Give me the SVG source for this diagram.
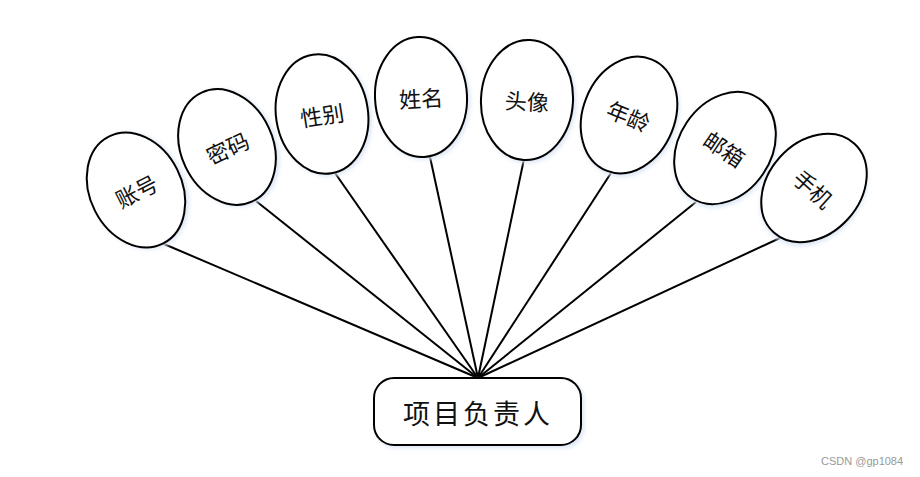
<svg xmlns="http://www.w3.org/2000/svg" width="920" height="477" viewBox="0 0 920 477">
<style>
.e{fill:#fff;stroke:#000;stroke-width:2}
.s{fill:#dbe6f5;stroke:none;filter:url(#bl)}
.t{font-family:"Noto Sans CJK SC","Noto Sans CJK JP",sans-serif;font-size:22px;font-weight:400;fill:#111;text-anchor:middle;dominant-baseline:central}
.c{stroke:#000;stroke-width:2;fill:none}
.wm{font-family:"Liberation Sans",Arial,sans-serif;font-size:11px;fill:#999}
</style>
<defs>
<filter id="bl" x="-20%" y="-20%" width="140%" height="140%">
<feGaussianBlur stdDeviation="2"/>
</filter>
</defs>
<rect width="920" height="477" fill="#fff"/>
<g id="connectors">
<line class="c" x1="164" y1="244" x2="478" y2="378"/>
<line class="c" x1="256" y1="201" x2="478" y2="378"/>
<line class="c" x1="335" y1="173" x2="478" y2="378"/>
<line class="c" x1="430" y1="157" x2="478" y2="378"/>
<line class="c" x1="524" y1="159" x2="478" y2="378"/>
<line class="c" x1="611" y1="173" x2="478" y2="378"/>
<line class="c" x1="696" y1="202" x2="478" y2="378"/>
<line class="c" x1="780" y1="238" x2="478" y2="378"/>
</g>
<g id="n1" transform="translate(136,190) rotate(-27)">
<ellipse class="s" cx="2" cy="2" rx="47" ry="61"/>
<ellipse class="e" rx="46" ry="60"/>
<text class="t" x="0" y="0">账号</text>
</g>
<g id="n2" transform="translate(227,147) rotate(-25)">
<ellipse class="s" cx="2" cy="2" rx="47" ry="61"/>
<ellipse class="e" rx="46" ry="60"/>
<text class="t" x="0" y="0">密码</text>
</g>
<g id="n3" transform="translate(322,114) rotate(-9)">
<ellipse class="s" cx="2" cy="2" rx="47" ry="61"/>
<ellipse class="e" rx="46" ry="60"/>
<text class="t" x="0" y="0">性别</text>
</g>
<g id="n4" transform="translate(421,97) rotate(-3)">
<ellipse class="s" cx="2" cy="2" rx="47" ry="61"/>
<ellipse class="e" rx="46" ry="60"/>
<text class="t" x="0" y="0">姓名</text>
</g>
<g id="n5" transform="translate(527,100) rotate(3)">
<ellipse class="s" cx="2" cy="2" rx="47" ry="61"/>
<ellipse class="e" rx="46" ry="60"/>
<text class="t" x="0" y="0">头像</text>
</g>
<g id="n6" transform="translate(629,115) rotate(22)">
<ellipse class="s" cx="2" cy="2" rx="47" ry="61"/>
<ellipse class="e" rx="46" ry="60"/>
<text class="t" x="0" y="0">年龄</text>
</g>
<g id="n7" transform="translate(725,148) rotate(34)">
<ellipse class="s" cx="2" cy="2" rx="47" ry="61"/>
<ellipse class="e" rx="46" ry="60"/>
<text class="t" x="0" y="0">邮箱</text>
</g>
<g id="n8" transform="translate(814,188) rotate(42)">
<ellipse class="s" cx="2" cy="2" rx="47" ry="61"/>
<ellipse class="e" rx="46" ry="60"/>
<text class="t" x="0" y="0">手机</text>
</g>
<g id="main">
<rect class="s" x="376" y="380" width="208" height="68" rx="20"/>
<rect class="e" x="374" y="378" width="207" height="67" rx="20"/>
<text class="t" x="478" y="412" style="font-size:27px;letter-spacing:3px">项目负责人</text>
</g>
<text class="wm" x="821" y="465">CSDN @gp1084</text>
</svg>
